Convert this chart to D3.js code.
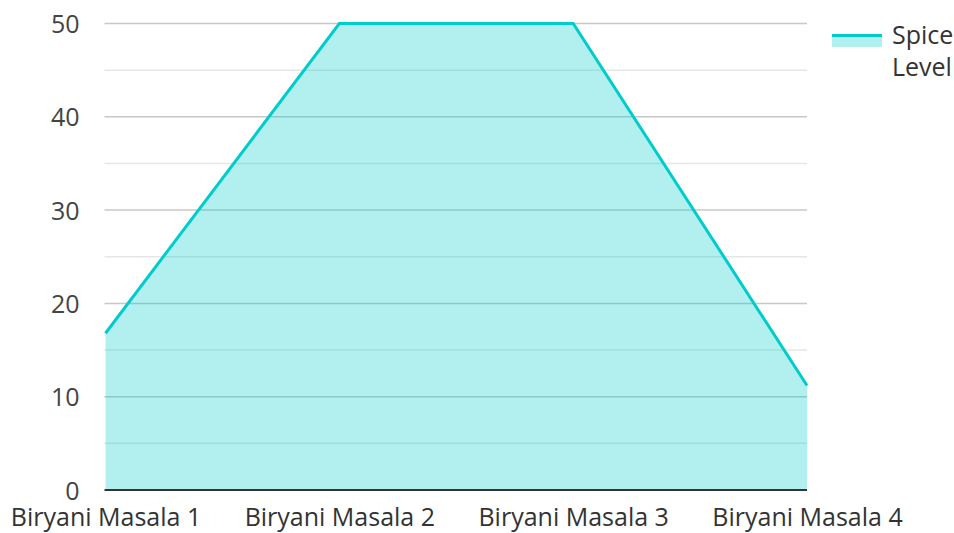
<!DOCTYPE html>
<html><head><meta charset="utf-8">
<script src="https://cdn.jsdelivr.net/npm/d3@7"></script>
<style>body{margin:0;background:#fff;}svg{display:block;font-family:"Open Sans",sans-serif;}</style>
</head><body><svg id="c" width="954" height="533"></svg>
<script>
const categories = ["Biryani Masala 1","Biryani Masala 2","Biryani Masala 3","Biryani Masala 4"];
const spiceLevel = [16.8, 50, 50, 11.2];
const yTicks = [0,10,20,30,40,50];
const minorTicks = [5,15,25,35,45];
const seriesName = ["Spice","Level"];

const svg = d3.select("#c");
const pLeft = 105.5, pRight = 807, pTop = 23.5, pBottom = 490;
const x = d3.scalePoint().domain(categories).range([pLeft, pRight]);
const y = d3.scaleLinear().domain([0,50]).range([pBottom, pTop]);

const g = svg.append("g");
g.selectAll("line.minor").data(minorTicks).join("line").attr("class","minor")
  .attr("x1", pLeft-1).attr("x2", pRight).attr("y1", d=>y(d)).attr("y2", d=>y(d))
  .attr("stroke", "#e6e6e6").attr("stroke-width", 1.5);
g.selectAll("line.major").data(yTicks.filter(d=>d>0)).join("line").attr("class","major")
  .attr("x1", pLeft-1).attr("x2", pRight).attr("y1", d=>y(d)).attr("y2", d=>y(d))
  .attr("stroke", "#c8c8c8").attr("stroke-width", 1.5);

const data = categories.map((c,i)=>({c, v: spiceLevel[i]}));
g.append("path").datum(data)
  .attr("d", d3.area().x(d=>x(d.c)).y0(y(0)).y1(d=>y(d.v)))
  .attr("fill", "rgba(0,204,204,0.3)");
g.append("path").datum(data)
  .attr("d", d3.line().x(d=>x(d.c)).y(d=>y(d.v)))
  .attr("fill", "none").attr("stroke", "#00cccc").attr("stroke-width", 3).attr("stroke-linejoin","miter");

g.append("line").attr("x1", pLeft-1).attr("x2", pRight).attr("y1", y(0)).attr("y2", y(0))
  .attr("stroke", "#333").attr("stroke-width", 2);

const yAxis = d3.axisLeft(y).tickValues(yTicks).tickSize(0).tickPadding(26);
const ya = svg.append("g").attr("transform", `translate(${pLeft},0)`).call(yAxis);
ya.select(".domain").remove();
ya.attr("font-size", 25).attr("font-family","Open Sans");
ya.selectAll("text").attr("fill", "#444").attr("dy","0.36em");

const xAxis = d3.axisBottom(x).tickSize(0).tickPadding(18);
const xa = svg.append("g").attr("transform", `translate(0,${pBottom})`).call(xAxis);
xa.select(".domain").remove();
xa.attr("font-size", 25).attr("font-family","Open Sans");
xa.selectAll("text").attr("fill", "#333");

const lg = svg.append("g");
lg.append("rect").attr("x", 832).attr("y", 35).attr("width", 50).attr("height", 12).attr("fill", "rgba(0,204,204,0.3)");
lg.append("line").attr("x1", 832).attr("x2", 882).attr("y1", 35.5).attr("y2", 35.5).attr("stroke", "#00cccc").attr("stroke-width", 3);
lg.selectAll("text").data(seriesName).join("text")
  .attr("x", 892).attr("y", (d,i)=>44 + i*32).attr("font-size", 25).attr("fill", "#333").text(d=>d);
</script></body></html>
